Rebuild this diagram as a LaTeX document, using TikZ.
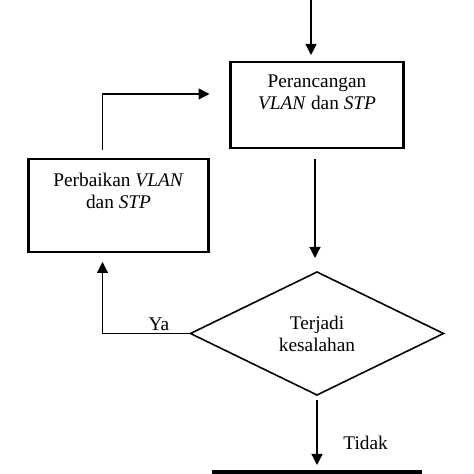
\documentclass[tikz,border=0pt]{standalone}
\usepackage{fontspec}
\setmainfont{Liberation Serif}
\usepackage{tikz}
\usetikzlibrary{shapes.geometric, arrows.meta, positioning, calc}

\begin{document}
\begin{tikzpicture}[
    node distance=0.6cm,
    decision/.style={diamond, draw=black, line width=0.9pt, outer sep=0pt,
                     minimum width=5.06cm, minimum height=2.46cm, align=center,
                     font=\fontsize{11}{12.5}\selectfont, inner sep=1pt},
    process/.style={rectangle, draw=black, line width=1.3pt, outer sep=0pt},
    boxtext/.style={align=center, font=\fontsize{11}{12.5}\selectfont, inner sep=1pt},
    arrow/.style={-{Triangle[length=2.2mm, width=2.2mm]}, line width=0.7pt, black}
]

\useasboundingbox (0,0) rectangle (9.48,9.48);
\clip (0,0) rectangle (9.48,9.48);

% Start
\coordinate (entry) at (6.22,9.48);

% Design
\node[process, minimum width=3.46cm, minimum height=1.72cm] (design) at (6.34,7.38) {};
\node[boxtext] (designtext) at ([yshift=0.26cm]design.center) {Perancangan\\\textit{VLAN} dan \textit{STP}};

% Repair
\node[process, minimum width=3.6cm, minimum height=1.86cm,
      below left=0.22cm and 0.44cm of design] (fix) {};
\node[boxtext] (fixtext) at ([yshift=0.3cm]fix.center) {Perbaikan \textit{VLAN}\\dan \textit{STP}};

% Decision
\node[decision, below=2.48cm of design] (check) {Terjadi\\kesalahan};

% Next step
\node[process, line width=2.2pt, minimum width=4.14cm, minimum height=1.2cm, below=1.54cm of check] (next) {};

% Arrows
\draw[arrow, shorten >=0.14cm] (entry) -- (entry |- design.north);
\draw[arrow, shorten <=0.22cm, shorten >=0.28cm] ([xshift=-0.04cm]design.south) -- ([xshift=-0.04cm]design.south |- check.north);
\draw[arrow, shorten >=0.2cm] (check.west) -| node[pos=0.18, above, inner sep=1pt, font=\fontsize{11}{12.5}\selectfont] (yes) {Ya} ([xshift=-0.32cm]fix.south);
\draw[arrow, shorten >=0.42cm] ([xshift=-0.32cm, yshift=0.18cm]fix.north) |- ([yshift=0.22cm]design.west);
\draw[arrow, shorten <=0.1cm, shorten >=0.14cm] (check.south) -- node[pos=0.62, right=0.4cm, font=\fontsize{11}{12.5}\selectfont] (no) {Tidak} (check.south |- next.north);

\end{tikzpicture}
\end{document}
